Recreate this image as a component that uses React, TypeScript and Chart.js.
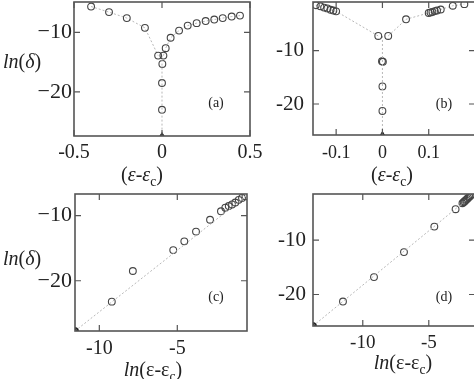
import React, { useEffect, useRef } from "react";
import { Chart, registerables } from "chart.js";
Chart.register(...registerables);

// ---------- DATA ----------
// Panel (a): ln(delta) vs (eps - eps_c)
const aLeftX = [-0.403, -0.301, -0.2, -0.097, -0.022];
const aLeftY = [-5.66, -6.6, -7.6, -9.24, -13.9];
const aRightX = [0.008, 0.021, 0.049, 0.097, 0.146, 0.197, 0.248, 0.297, 0.345, 0.396, 0.443];
const aRightY = [-13.9, -12.66, -10.9, -9.7, -8.86, -8.45, -8.1, -7.85, -7.6, -7.34, -7.18];
const aStemX = [0.002, 0, 0];
const aStemY = [-15.3, -18.5, -23.0];
const aGuideX = [0, 0];
const aGuideY = [-13.9, -27.4];

// Panel (b)
const bLeftX = [-0.144, -0.134, -0.126, -0.119, -0.112, -0.106, -0.1];
const bLeftY = [-1.5, -1.7, -1.95, -2.1, -2.35, -2.5, -2.65];
const bMidX = [-0.009, 0.0125];
const bMidY = [-7.26, -7.26];
const bRightX = [0.051, 0.1, 0.104, 0.108, 0.113, 0.118, 0.126, 0.152, 0.177];
const bRightY = [-4.14, -2.95, -2.85, -2.75, -2.6, -2.5, -2.3, -1.6, -1.3];
const bStemX = [-0.001, 0.001, 0, 0];
const bStemY = [-12.0, -12.1, -16.7, -21.3];
const bGuideX = [0, 0];
const bGuideY = [-7.26, -25.8];

// Panel (c): ln(delta) vs ln(eps - eps_c)
const cX = [-9.2, -7.85, -5.26, -4.55, -3.8, -2.9, -2.2, -1.92, -1.7, -1.49, -1.28, -1.06, -0.85, -0.63];
const cY = [-23.2, -18.5, -15.3, -13.96, -12.46, -10.65, -9.35, -8.8, -8.55, -8.3, -8.0, -7.6, -7.3, -7.05];
const cFitX = [-11.56, -0.53];
const cFitY = [-27.7, -6.9];

// Panel (d)
const dX = [-11.5, -9.15, -6.88, -4.58, -2.97, -2.45, -2.36, -2.3, -2.24, -2.17, -2.1, -2.02, -1.93, -1.84];
const dY = [-21.3, -16.8, -12.2, -7.5, -4.3, -3.2, -3.0, -2.88, -2.72, -2.58, -2.4, -2.22, -2.0, -1.8];
const dFitX = [-13.77, -1.5];
const dFitY = [-25.8, -1.3];

// Tick values
const aXTicks = [-0.5, 0, 0.5];
const bXTicks = [-0.1, 0, 0.1];
const lnXTicks = [-10, -5];
const yTicks = [-10, -20];

// Axis ranges
const aXRange = [-0.5, 0.5];
const aYRange = [-27.4, -4.9];
const bXRange = [-0.15, 0.2];
const bYRange = [-25.8, -0.9];
const cXRange = [-11.56, -0.53];
const cYRange = [-27.7, -6.7];
const dXRange = [-13.77, -1.5];
const dYRange = [-25.8, -1.5];

// Texts
const panelLabels = ["(a)", "(b)", "(c)", "(d)"];
const yTitleSegs = [
  { t: "ln", it: true },
  { t: "(", it: false },
  { t: "δ", it: true },
  { t: ")", it: false },
];
const xTitleSegs = [
  { t: "(", it: false },
  { t: "ε", it: true },
  { t: "-", it: false },
  { t: "ε", it: true },
  { t: "c", it: false, sub: true },
  { t: ")", it: false },
];
const lnXTitleSegs = [
  { t: "ln", it: true },
  { t: "(ε-ε", it: false },
  { t: "c", it: false, sub: true },
  { t: ")", it: false },
];

// ---------- helpers ----------
const FAMILY = "'Liberation Serif', 'Times New Roman', serif";
const zip = (xs: number[], ys: number[]) => xs.map((x, i) => ({ x, y: ys[i] }));

const pointDs = (xs: number[], ys: number[], line: boolean) => ({
  data: zip(xs, ys),
  showLine: line,
  borderColor: line ? "#b8b8b8" : "#444",
  borderWidth: 1,
  borderDash: [2, 2],
  pointRadius: 3.4,
  pointBorderWidth: 1.1,
  pointBorderColor: "#444",
  pointBackgroundColor: "rgba(255,255,255,0)",
});
const lineDs = (xs: number[], ys: number[]) => ({
  data: zip(xs, ys),
  showLine: true,
  borderColor: "#b8b8b8",
  borderWidth: 1,
  borderDash: [2, 2],
  pointRadius: 0,
});
const baseDs = (x: number, y: number, style: string) => ({
  data: [{ x, y }],
  showLine: false,
  pointStyle: style,
  pointRadius: 3.5,
  pointBorderColor: "#222",
  pointBackgroundColor: "#222",
  pointBorderWidth: 1,
});

function drawRich(ctx: CanvasRenderingContext2D, segs: any[], cx: number, cy: number, size: number) {
  let w = 0;
  const parts = segs.map((s) => {
    const fs = s.sub ? size * 0.68 : size;
    const font = `${s.it ? "italic " : ""}${fs}px ${FAMILY}`;
    ctx.font = font;
    const m = ctx.measureText(s.t).width;
    w += m;
    return { ...s, font, m };
  });
  let x = cx - w / 2;
  ctx.textAlign = "left";
  ctx.textBaseline = "middle";
  for (const p of parts) {
    ctx.font = p.font;
    ctx.fillText(p.t, x, cy + (p.sub ? size * 0.32 : 0));
    x += p.m;
  }
}

const framePlugin = {
  id: "frame",
  afterDraw(chart: any, _args: any, o: any) {
    const { ctx, chartArea, scales } = chart;
    const { left, top, right, bottom } = chartArea;
    ctx.save();
    ctx.strokeStyle = "#555";
    ctx.lineWidth = 1.6;
    ctx.strokeRect(left, top, right - left, bottom - top);
    ctx.lineWidth = 1.2;
    ctx.beginPath();
    const tl = 6;
    for (const v of o.xTicks) {
      const px = scales.x.getPixelForValue(v);
      ctx.moveTo(px, bottom);
      ctx.lineTo(px, bottom - tl);
      ctx.moveTo(px, top);
      ctx.lineTo(px, top + tl);
    }
    for (const v of o.yTicks) {
      const py = scales.y.getPixelForValue(v);
      ctx.moveTo(left, py);
      ctx.lineTo(left + tl, py);
      ctx.moveTo(right, py);
      ctx.lineTo(right - tl, py);
    }
    ctx.stroke();
    ctx.fillStyle = "#222";
    ctx.font = `14px ${FAMILY}`;
    ctx.textAlign = "center";
    ctx.textBaseline = "middle";
    ctx.fillText(o.label, o.labelPos[0], o.labelPos[1]);
    if (o.yTitle) drawRich(ctx, o.yTitle, o.yTitlePos[0], o.yTitlePos[1], 20);
    if (o.xTitle) drawRich(ctx, o.xTitle, o.xTitlePos[0], o.xTitlePos[1], 20);
    ctx.restore();
  },
};

const fmtMinus = (minus: string) => (v: any) => {
  const n = Number(v);
  return n < 0 ? minus + String(Math.abs(n)) : String(n);
};

function Panel(props: any) {
  const ref = useRef<HTMLCanvasElement>(null);
  const p = props.cfg;
  useEffect(() => {
    const c = ref.current!;
    const chart = new Chart(c, {
      type: "scatter",
      data: { datasets: p.datasets },
      plugins: [framePlugin],
      options: {
        animation: false,
        responsive: false,
        events: [],
        layout: {
          autoPadding: false,
          padding: { top: p.box.t, right: p.w - p.box.r, left: 0, bottom: 0 },
        },
        plugins: {
          legend: { display: false },
          tooltip: { enabled: false },
          frame: {
            xTicks: p.xTicks,
            yTicks: yTicks,
            label: p.label,
            labelPos: p.labelPos,
            yTitle: p.yTitle,
            yTitlePos: p.yTitlePos,
            xTitle: p.xTitle,
            xTitlePos: p.xTitlePos,
          },
        } as any,
        scales: {
          x: {
            type: "linear",
            min: p.xRange[0],
            max: p.xRange[1],
            grid: { display: false, drawTicks: false },
            border: { display: false },
            afterBuildTicks: (s: any) => {
              s.ticks = p.xTicks.map((v: number) => ({ value: v }));
            },
            afterFit: (s: any) => {
              s.height = p.h - p.box.b;
              s.paddingLeft = 0;
              s.paddingRight = 0;
              s.paddingTop = 0;
              s.paddingBottom = 0;
            },
            ticks: {
              color: "#222",
              padding: p.xPad,
              maxRotation: 0,
              autoSkip: false,
              font: { family: FAMILY, size: p.xFont },
              callback: fmtMinus("-"),
            },
          },
          y: {
            type: "linear",
            min: p.yRange[0],
            max: p.yRange[1],
            grid: { display: false, drawTicks: false },
            border: { display: false },
            afterBuildTicks: (s: any) => {
              s.ticks = yTicks.map((v: number) => ({ value: v }));
            },
            afterFit: (s: any) => {
              s.width = p.box.l;
              s.paddingLeft = 0;
              s.paddingRight = 0;
              s.paddingTop = 0;
              s.paddingBottom = 0;
            },
            ticks: {
              color: "#222",
              padding: p.yPad,
              autoSkip: false,
              font: { family: FAMILY, size: p.yFont },
              callback: fmtMinus(p.yMinus),
            },
          },
        },
      } as any,
    });
    return () => chart.destroy();
  }, []);
  return (
    <canvas
      ref={ref}
      width={p.w}
      height={p.h}
      style={{ position: "absolute", left: p.left, top: p.top, width: p.w, height: p.h }}
    />
  );
}

const panels = [
  {
    left: 0, top: 0, w: 262, h: 189,
    box: { l: 74, t: 2, r: 250, b: 136 },
    xRange: aXRange, yRange: aYRange, xTicks: aXTicks,
    xFont: 20, yFont: 22, yMinus: "−", xPad: 5, yPad: 2,
    label: panelLabels[0], labelPos: [216, 103],
    yTitle: yTitleSegs, yTitlePos: [22, 63],
    xTitle: xTitleSegs, xTitlePos: [142, 176],
    datasets: [
      pointDs(aLeftX, aLeftY, true),
      pointDs(aRightX, aRightY, true),
      lineDs(aGuideX, aGuideY),
      pointDs(aStemX, aStemY, false),
      baseDs(0, aYRange[0], "triangle"),
    ],
  },
  {
    left: 236, top: 0, w: 252, h: 189,
    box: { l: 77, t: 2, r: 239, b: 135 },
    xRange: bXRange, yRange: bYRange, xTicks: bXTicks,
    xFont: 18, yFont: 21, yMinus: "-", xPad: 7, yPad: 9,
    label: panelLabels[1], labelPos: [208, 104],
    xTitle: xTitleSegs, xTitlePos: [156, 176],
    datasets: [
      pointDs([...bLeftX, bMidX[0]], [...bLeftY, bMidY[0]], true),
      pointDs([bMidX[1], ...bRightX], [bMidY[1], ...bRightY], true),
      lineDs(bGuideX, bGuideY),
      pointDs(bStemX, bStemY, false),
      baseDs(0, bYRange[0], "triangle"),
    ],
  },
  {
    left: 0, top: 189, w: 262, h: 190,
    box: { l: 75, t: 5, r: 247, b: 142 },
    xRange: cXRange, yRange: cYRange, xTicks: lnXTicks,
    xFont: 20, yFont: 22, yMinus: "−", xPad: 6, yPad: 3,
    label: panelLabels[2], labelPos: [216, 108],
    yTitle: yTitleSegs, yTitlePos: [22, 71],
    xTitle: lnXTitleSegs, xTitlePos: [153, 182],
    datasets: [
      lineDs(cFitX, cFitY),
      pointDs(cX, cY, false),
      baseDs(cFitX[0], cFitY[0], "circle"),
    ],
  },
  {
    left: 236, top: 189, w: 252, h: 190,
    box: { l: 77, t: 5, r: 239, b: 137 },
    xRange: dXRange, yRange: dYRange, xTicks: lnXTicks,
    xFont: 19, yFont: 21, yMinus: "-", xPad: 6, yPad: 7,
    label: panelLabels[3], labelPos: [208, 108],
    xTitle: lnXTitleSegs, xTitlePos: [167, 175],
    datasets: [
      lineDs(dFitX, dFitY),
      pointDs(dX, dY, false),
      baseDs(dFitX[0], dFitY[0], "circle"),
    ],
  },
];

export default function App() {
  return (
    <div
      style={{
        position: "fixed",
        left: 0,
        top: 0,
        width: 474,
        height: 379,
        overflow: "hidden",
        background: "#fff",
      }}
    >
      {panels.map((p, i) => (
        <Panel key={i} cfg={p} />
      ))}
    </div>
  );
}
